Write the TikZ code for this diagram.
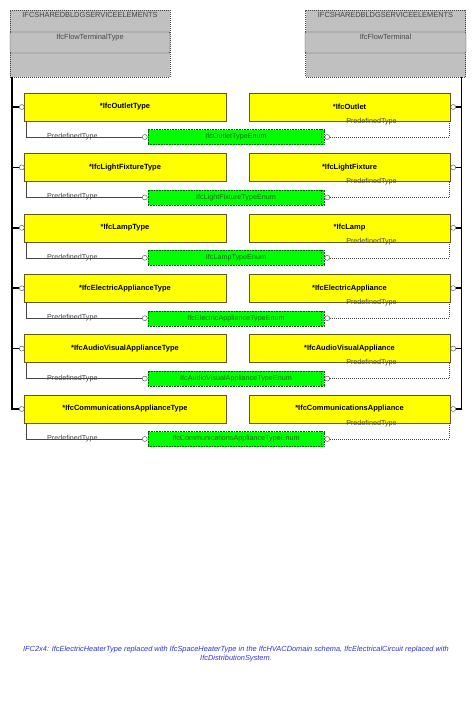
\documentclass[tikz,border=0pt]{standalone}
\usepackage{fontspec}
\setmainfont{Liberation Sans}
\usetikzlibrary{positioning}

\definecolor{schgray}{RGB}{192,192,192}
\definecolor{schline}{RGB}{70,70,70}
\definecolor{entyellow}{RGB}{255,255,0}
\definecolor{entline}{RGB}{100,90,20}
\definecolor{enumgreen}{RGB}{0,255,0}
\definecolor{enumline}{RGB}{0,100,0}
\definecolor{enumtext}{RGB}{20,105,20}
\definecolor{notecol}{RGB}{50,50,210}

\tikzset{
  schema/.style={draw=schline,dash pattern=on 1pt off 1pt,fill=schgray,minimum width=160pt,minimum height=67pt,inner sep=0pt},
  schitem/.style={draw=schline,fill=schgray,rounded corners=1pt,minimum width=160pt,minimum height=21pt,inner sep=0pt},
  ytype/.style={draw=entline,fill=entyellow,minimum width=202pt,minimum height=28pt,inner sep=0pt,font=\fontsize{7.5}{8}\selectfont\bfseries},
  yocc/.style={ytype,minimum width=201pt},
  enumbox/.style={draw=enumline,dash pattern=on 1pt off 0.6pt,fill=enumgreen,minimum width=176pt,minimum height=15pt,inner sep=0pt,text=enumtext},
  lolly/.style={circle,draw=schline,fill=white,minimum size=5pt,inner sep=0pt},
  spine/.style={line width=1.5pt},
  tref/.style={draw=schline},
  oref/.style={draw=schline,dash pattern=on 1pt off 1pt},
  attr/.style={text=schline,inner sep=0pt,anchor=base},
  schname/.style={anchor=north,inner sep=2.5pt,text=schline,font=\fontsize{7.4}{8}\selectfont}
}

\begin{document}
\begin{tikzpicture}[x=1pt,y=-1pt,font=\fontsize{7.2}{8}\selectfont]
	\useasboundingbox (0,0) rectangle (474,701);

	\node[schema,label={[schname]north:IFCSHAREDBLDGSERVICEELEMENTS}] (lsch) at (90,43.5) {};
	\node[schitem,below=22pt of lsch.north,label={[schname]north:IfcFlowTerminalType}] (lft) {};
	\node[schema,label={[schname]north:IFCSHAREDBLDGSERVICEELEMENTS}] (rsch) at (385.5,43.5) {};
	\node[schitem,minimum width=161pt,below=22pt of rsch.north,label={[schname]north:IfcFlowTerminal}] (rft) {};

	% type side
	\node[ytype] (lt1) at (125,107) {*IfcOutletType};
	\node[ytype,below=32pt of lt1] (lt2) {*IfcLightFixtureType};
	\node[ytype,below=32pt of lt2] (lt3) {*IfcLampType};
	\node[ytype,below=32pt of lt3] (lt4) {*IfcElectricApplianceType};
	\node[ytype,below=32pt of lt4] (lt5) {*IfcAudioVisualApplianceType};
	\node[ytype,below=32pt of lt5] (lt6) {*IfcCommunicationsApplianceType};

	% occurrence side
	\node[yocc] (ro1) at (349.5,107) {*IfcOutlet};
	\node[yocc,below=32pt of ro1] (ro2) {*IfcLightFixture};
	\node[yocc,below=32pt of ro2] (ro3) {*IfcLamp};
	\node[yocc,below=32pt of ro3] (ro4) {*IfcElectricAppliance};
	\node[yocc,below=32pt of ro4] (ro5) {*IfcAudioVisualAppliance};
	\node[yocc,below=32pt of ro5] (ro6) {*IfcCommunicationsAppliance};

	% enumerations
	\node[enumbox] (en1) at (236,137) {IfcOutletTypeEnum};
	\node[enumbox,below=45pt of en1] (en2) {IfcLightFixtureTypeEnum};
	\node[enumbox,below=45pt of en2] (en3) {IfcLampTypeEnum};
	\node[enumbox,below=45pt of en3] (en4) {IfcElectricApplianceTypeEnum};
	\node[enumbox,below=45pt of en4] (en5) {IfcAudioVisualApplianceTypeEnum};
	\node[enumbox,below=45pt of en5] (en6) {IfcCommunicationsApplianceTypeEnum};
	\draw[enumline,dash pattern=on 1pt off 0.6pt] ([xshift=-3pt]en1.north east) -- ([xshift=-3pt]en1.south east);
	\draw[enumline,dash pattern=on 1pt off 0.6pt] ([xshift=-3pt]en2.north east) -- ([xshift=-3pt]en2.south east);
	\draw[enumline,dash pattern=on 1pt off 0.6pt] ([xshift=-3pt]en3.north east) -- ([xshift=-3pt]en3.south east);
	\draw[enumline,dash pattern=on 1pt off 0.6pt] ([xshift=-3pt]en4.north east) -- ([xshift=-3pt]en4.south east);
	\draw[enumline,dash pattern=on 1pt off 0.6pt] ([xshift=-3pt]en5.north east) -- ([xshift=-3pt]en5.south east);
	\draw[enumline,dash pattern=on 1pt off 0.6pt] ([xshift=-3pt]en6.north east) -- ([xshift=-3pt]en6.south east);

	% lollipop ends
	\node[lolly] (lc1) at ([xshift=-2pt]lt1.west) {};
	\node[lolly] (lc2) at ([xshift=-2pt]lt2.west) {};
	\node[lolly] (lc3) at ([xshift=-2pt]lt3.west) {};
	\node[lolly] (lc4) at ([xshift=-2pt]lt4.west) {};
	\node[lolly] (lc5) at ([xshift=-2pt]lt5.west) {};
	\node[lolly] (lc6) at ([xshift=-2pt]lt6.west) {};
	\node[lolly] (rc1) at ([xshift=3pt]ro1.east) {};
	\node[lolly] (rc2) at ([xshift=3pt]ro2.east) {};
	\node[lolly] (rc3) at ([xshift=3pt]ro3.east) {};
	\node[lolly] (rc4) at ([xshift=3pt]ro4.east) {};
	\node[lolly] (rc5) at ([xshift=3pt]ro5.east) {};
	\node[lolly] (rc6) at ([xshift=3pt]ro6.east) {};
	\node[lolly] (el1) at ([xshift=-3pt]en1.west) {};
	\node[lolly] (el2) at ([xshift=-3pt]en2.west) {};
	\node[lolly] (el3) at ([xshift=-3pt]en3.west) {};
	\node[lolly] (el4) at ([xshift=-3pt]en4.west) {};
	\node[lolly] (el5) at ([xshift=-3pt]en5.west) {};
	\node[lolly] (el6) at ([xshift=-3pt]en6.west) {};
	\node[lolly] (er1) at ([xshift=3pt]en1.east) {};
	\node[lolly] (er2) at ([xshift=3pt]en2.east) {};
	\node[lolly] (er3) at ([xshift=3pt]en3.east) {};
	\node[lolly] (er4) at ([xshift=3pt]en4.east) {};
	\node[lolly] (er5) at ([xshift=3pt]en5.east) {};
	\node[lolly] (er6) at ([xshift=3pt]en6.east) {};

	% subtype trees
	\coordinate (lsp) at ([xshift=2pt]lsch.south west);
	\coordinate (rsp) at ([xshift=-4pt]rsch.south east);
	\draw[spine] (lsp) |- (lc6.west);
	\draw[spine] (lsp |- lc1) -- (lc1.west);
	\draw[spine] (lsp |- lc2) -- (lc2.west);
	\draw[spine] (lsp |- lc3) -- (lc3.west);
	\draw[spine] (lsp |- lc4) -- (lc4.west);
	\draw[spine] (lsp |- lc5) -- (lc5.west);
	\draw[spine] (rsp) |- (rc6.east);
	\draw[spine] (rsp |- rc1) -- (rc1.east);
	\draw[spine] (rsp |- rc2) -- (rc2.east);
	\draw[spine] (rsp |- rc3) -- (rc3.east);
	\draw[spine] (rsp |- rc4) -- (rc4.east);
	\draw[spine] (rsp |- rc5) -- (rc5.east);

	% attribute references
	\draw[tref] ([xshift=2pt]lt1.south west) |- node[attr,pos=0.7,yshift=-1.5pt] {PredefinedType} (el1.west);
	\draw[tref] ([xshift=2pt]lt2.south west) |- node[attr,pos=0.7,yshift=-1.5pt] {PredefinedType} (el2.west);
	\draw[tref] ([xshift=2pt]lt3.south west) |- node[attr,pos=0.7,yshift=-1.5pt] {PredefinedType} (el3.west);
	\draw[tref] ([xshift=2pt]lt4.south west) |- node[attr,pos=0.7,yshift=-1.5pt] {PredefinedType} (el4.west);
	\draw[tref] ([xshift=2pt]lt5.south west) |- node[attr,pos=0.7,yshift=-1.5pt] {PredefinedType} (el5.west);
	\draw[tref] ([xshift=2pt]lt6.south west) |- node[attr,pos=0.7,yshift=-1.5pt] {PredefinedType} (el6.west);
	\draw[oref] ([xshift=-1.5pt]ro1.south east) |- (er1.east);
	\draw[oref] ([xshift=-1.5pt]ro2.south east) |- (er2.east);
	\draw[oref] ([xshift=-1.5pt]ro3.south east) |- (er3.east);
	\draw[oref] ([xshift=-1.5pt]ro4.south east) |- (er4.east);
	\draw[oref] ([xshift=-1.5pt]ro5.south east) |- (er5.east);
	\draw[oref] ([xshift=-1.5pt]ro6.south east) |- (er6.east);
	\node[attr,anchor=center] (rp1) at ([xshift=22pt]ro1.south) {PredefinedType};
	\node[attr,anchor=center] (rp2) at ([xshift=22pt]ro2.south) {PredefinedType};
	\node[attr,anchor=center] (rp3) at ([xshift=22pt]ro3.south) {PredefinedType};
	\node[attr,anchor=center] (rp4) at ([xshift=22pt]ro4.south) {PredefinedType};
	\node[attr,anchor=center] (rp5) at ([xshift=22pt]ro5.south) {PredefinedType};
	\node[attr,anchor=center] (rp6) at ([xshift=22pt]ro6.south) {PredefinedType};

	\node[text=notecol,align=center,font=\fontsize{7.4}{9}\selectfont\itshape] (note) at (236,654.5)
		{IFC2x4: IfcElectricHeaterType replaced with IfcSpaceHeaterType in the IfcHVACDomain schema, IfcElectricalCircuit replaced with\\IfcDistributionSystem.};
\end{tikzpicture}
\end{document}
